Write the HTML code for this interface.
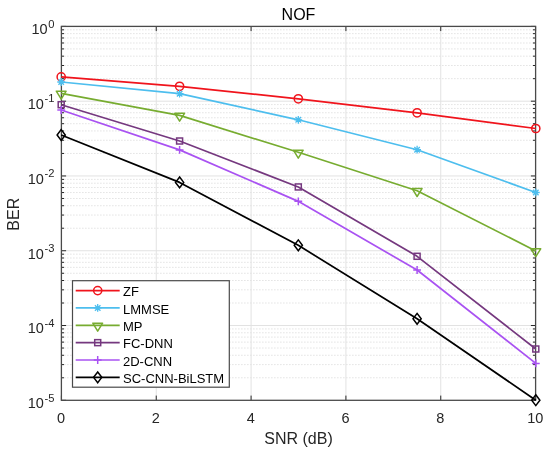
<!DOCTYPE html><html><head><meta charset="utf-8"><style>
html,body{margin:0;padding:0;background:#fff;}
svg{display:block;filter:blur(0.45px);}
text{font-family:"Liberation Sans",Arial,sans-serif;fill:#262626;}
</style></head><body>
<svg width="550" height="454" viewBox="0 0 550 454">
<rect width="550" height="454" fill="#fff"/>
<path d="M61.4 78.67H535.6M61.4 65.50H535.6M61.4 56.16H535.6M61.4 48.91H535.6M61.4 42.99H535.6M61.4 37.98H535.6M61.4 33.65H535.6M61.4 29.82H535.6M61.4 153.45H535.6M61.4 140.28H535.6M61.4 130.94H535.6M61.4 123.69H535.6M61.4 117.77H535.6M61.4 112.76H535.6M61.4 108.43H535.6M61.4 104.60H535.6M61.4 228.23H535.6M61.4 215.06H535.6M61.4 205.72H535.6M61.4 198.47H535.6M61.4 192.55H535.6M61.4 187.54H535.6M61.4 183.21H535.6M61.4 179.38H535.6M61.4 303.01H535.6M61.4 289.84H535.6M61.4 280.50H535.6M61.4 273.25H535.6M61.4 267.33H535.6M61.4 262.32H535.6M61.4 257.99H535.6M61.4 254.16H535.6M61.4 377.79H535.6M61.4 364.62H535.6M61.4 355.28H535.6M61.4 348.03H535.6M61.4 342.11H535.6M61.4 337.10H535.6M61.4 332.77H535.6M61.4 328.94H535.6" stroke="#d4d4d4" stroke-width="1" stroke-dasharray="1 2" fill="none"/>
<path d="M61.4 101.18H535.6M61.4 175.96H535.6M61.4 250.74H535.6M61.4 325.52H535.6M156.24 26.4V400.3M251.08 26.4V400.3M345.92 26.4V400.3M440.76 26.4V400.3" stroke="#e2e2e2" stroke-width="1" fill="none"/>
<path d="M61.40 400.3v-4.7M61.40 26.4v4.7M156.24 400.3v-4.7M156.24 26.4v4.7M251.08 400.3v-4.7M251.08 26.4v4.7M345.92 400.3v-4.7M345.92 26.4v4.7M440.76 400.3v-4.7M440.76 26.4v4.7M535.60 400.3v-4.7M535.60 26.4v4.7M61.4 26.40h4.7M535.6 26.40h-4.7M61.4 101.18h4.7M535.6 101.18h-4.7M61.4 175.96h4.7M535.6 175.96h-4.7M61.4 250.74h4.7M535.6 250.74h-4.7M61.4 325.52h4.7M535.6 325.52h-4.7M61.4 400.30h4.7M535.6 400.30h-4.7M61.4 78.67h2.6M535.6 78.67h-2.6M61.4 65.50h2.6M535.6 65.50h-2.6M61.4 56.16h2.6M535.6 56.16h-2.6M61.4 48.91h2.6M535.6 48.91h-2.6M61.4 42.99h2.6M535.6 42.99h-2.6M61.4 37.98h2.6M535.6 37.98h-2.6M61.4 33.65h2.6M535.6 33.65h-2.6M61.4 29.82h2.6M535.6 29.82h-2.6M61.4 153.45h2.6M535.6 153.45h-2.6M61.4 140.28h2.6M535.6 140.28h-2.6M61.4 130.94h2.6M535.6 130.94h-2.6M61.4 123.69h2.6M535.6 123.69h-2.6M61.4 117.77h2.6M535.6 117.77h-2.6M61.4 112.76h2.6M535.6 112.76h-2.6M61.4 108.43h2.6M535.6 108.43h-2.6M61.4 104.60h2.6M535.6 104.60h-2.6M61.4 228.23h2.6M535.6 228.23h-2.6M61.4 215.06h2.6M535.6 215.06h-2.6M61.4 205.72h2.6M535.6 205.72h-2.6M61.4 198.47h2.6M535.6 198.47h-2.6M61.4 192.55h2.6M535.6 192.55h-2.6M61.4 187.54h2.6M535.6 187.54h-2.6M61.4 183.21h2.6M535.6 183.21h-2.6M61.4 179.38h2.6M535.6 179.38h-2.6M61.4 303.01h2.6M535.6 303.01h-2.6M61.4 289.84h2.6M535.6 289.84h-2.6M61.4 280.50h2.6M535.6 280.50h-2.6M61.4 273.25h2.6M535.6 273.25h-2.6M61.4 267.33h2.6M535.6 267.33h-2.6M61.4 262.32h2.6M535.6 262.32h-2.6M61.4 257.99h2.6M535.6 257.99h-2.6M61.4 254.16h2.6M535.6 254.16h-2.6M61.4 377.79h2.6M535.6 377.79h-2.6M61.4 364.62h2.6M535.6 364.62h-2.6M61.4 355.28h2.6M535.6 355.28h-2.6M61.4 348.03h2.6M535.6 348.03h-2.6M61.4 342.11h2.6M535.6 342.11h-2.6M61.4 337.10h2.6M535.6 337.10h-2.6M61.4 332.77h2.6M535.6 332.77h-2.6M61.4 328.94h2.6M535.6 328.94h-2.6" stroke="#262626" stroke-width="1" fill="none"/>
<rect x="61.4" y="26.4" width="474.2" height="373.9" fill="none" stroke="#4a4a4a" stroke-width="1.3"/>
<polyline points="61.20,76.90 179.60,86.30 298.30,98.80 417.10,112.80 535.80,128.50" fill="none" stroke="#f0141c" stroke-width="1.7" stroke-linejoin="round"/>
<circle cx="61.20" cy="76.90" r="4.1" fill="none" stroke="#f0141c" stroke-width="1.5"/>
<circle cx="179.60" cy="86.30" r="4.1" fill="none" stroke="#f0141c" stroke-width="1.5"/>
<circle cx="298.30" cy="98.80" r="4.1" fill="none" stroke="#f0141c" stroke-width="1.5"/>
<circle cx="417.10" cy="112.80" r="4.1" fill="none" stroke="#f0141c" stroke-width="1.5"/>
<circle cx="535.80" cy="128.50" r="4.1" fill="none" stroke="#f0141c" stroke-width="1.5"/>
<polyline points="61.20,82.00 179.60,93.70 298.30,119.80 417.10,149.70 535.80,192.50" fill="none" stroke="#4dbeee" stroke-width="1.7" stroke-linejoin="round"/>
<path d="M57.30 82.00h7.8M61.20 78.10v7.8M58.44 79.24l5.52 5.52M58.44 84.76l5.52 -5.52" stroke="#4dbeee" stroke-width="1.3" fill="none"/>
<path d="M175.70 93.70h7.8M179.60 89.80v7.8M176.84 90.94l5.52 5.52M176.84 96.46l5.52 -5.52" stroke="#4dbeee" stroke-width="1.3" fill="none"/>
<path d="M294.40 119.80h7.8M298.30 115.90v7.8M295.54 117.04l5.52 5.52M295.54 122.56l5.52 -5.52" stroke="#4dbeee" stroke-width="1.3" fill="none"/>
<path d="M413.20 149.70h7.8M417.10 145.80v7.8M414.34 146.94l5.52 5.52M414.34 152.46l5.52 -5.52" stroke="#4dbeee" stroke-width="1.3" fill="none"/>
<path d="M531.90 192.50h7.8M535.80 188.60v7.8M533.04 189.74l5.52 5.52M533.04 195.26l5.52 -5.52" stroke="#4dbeee" stroke-width="1.3" fill="none"/>
<polyline points="61.20,93.30 179.60,115.40 298.30,152.30 417.10,190.70 535.80,250.90" fill="none" stroke="#77ac30" stroke-width="1.7" stroke-linejoin="round"/>
<path d="M56.30 91.20H66.10L61.20 99.10Z" fill="none" stroke="#77ac30" stroke-width="1.5" stroke-linejoin="round"/>
<path d="M174.70 113.30H184.50L179.60 121.20Z" fill="none" stroke="#77ac30" stroke-width="1.5" stroke-linejoin="round"/>
<path d="M293.40 150.20H303.20L298.30 158.10Z" fill="none" stroke="#77ac30" stroke-width="1.5" stroke-linejoin="round"/>
<path d="M412.20 188.60H422.00L417.10 196.50Z" fill="none" stroke="#77ac30" stroke-width="1.5" stroke-linejoin="round"/>
<path d="M530.90 248.80H540.70L535.80 256.70Z" fill="none" stroke="#77ac30" stroke-width="1.5" stroke-linejoin="round"/>
<polyline points="61.20,104.70 179.60,141.00 298.30,186.95 417.10,256.30 535.80,349.00" fill="none" stroke="#75387f" stroke-width="1.7" stroke-linejoin="round"/>
<rect x="58.20" y="101.70" width="6.0" height="6.0" fill="none" stroke="#75387f" stroke-width="1.5"/>
<rect x="176.60" y="138.00" width="6.0" height="6.0" fill="none" stroke="#75387f" stroke-width="1.5"/>
<rect x="295.30" y="183.95" width="6.0" height="6.0" fill="none" stroke="#75387f" stroke-width="1.5"/>
<rect x="414.10" y="253.30" width="6.0" height="6.0" fill="none" stroke="#75387f" stroke-width="1.5"/>
<rect x="532.80" y="346.00" width="6.0" height="6.0" fill="none" stroke="#75387f" stroke-width="1.5"/>
<polyline points="61.20,110.00 179.60,149.90 298.30,201.35 417.10,270.00 535.80,363.40" fill="none" stroke="#a952f2" stroke-width="1.7" stroke-linejoin="round"/>
<path d="M57.30 110.00h7.8M61.20 106.10v7.8" stroke="#a952f2" stroke-width="1.5" fill="none"/>
<path d="M175.70 149.90h7.8M179.60 146.00v7.8" stroke="#a952f2" stroke-width="1.5" fill="none"/>
<path d="M294.40 201.35h7.8M298.30 197.45v7.8" stroke="#a952f2" stroke-width="1.5" fill="none"/>
<path d="M413.20 270.00h7.8M417.10 266.10v7.8" stroke="#a952f2" stroke-width="1.5" fill="none"/>
<path d="M531.90 363.40h7.8M535.80 359.50v7.8" stroke="#a952f2" stroke-width="1.5" fill="none"/>
<polyline points="61.20,135.00 179.60,182.40 298.30,245.30 417.10,318.80 535.80,400.20" fill="none" stroke="#000000" stroke-width="1.7" stroke-linejoin="round"/>
<path d="M61.20 129.60L65.30 135.00L61.20 140.40L57.10 135.00Z" fill="none" stroke="#000000" stroke-width="1.5" stroke-linejoin="miter"/>
<path d="M179.60 177.00L183.70 182.40L179.60 187.80L175.50 182.40Z" fill="none" stroke="#000000" stroke-width="1.5" stroke-linejoin="miter"/>
<path d="M298.30 239.90L302.40 245.30L298.30 250.70L294.20 245.30Z" fill="none" stroke="#000000" stroke-width="1.5" stroke-linejoin="miter"/>
<path d="M417.10 313.40L421.20 318.80L417.10 324.20L413.00 318.80Z" fill="none" stroke="#000000" stroke-width="1.5" stroke-linejoin="miter"/>
<path d="M535.80 394.80L539.90 400.20L535.80 405.60L531.70 400.20Z" fill="none" stroke="#000000" stroke-width="1.5" stroke-linejoin="miter"/>
<rect x="72.5" y="280.7" width="156.8" height="106.5" fill="#fff" stroke="#4a4a4a" stroke-width="1.2"/>
<path d="M75.7 290.60H119.7" stroke="#f0141c" stroke-width="1.7"/>
<circle cx="97.70" cy="290.60" r="4.1" fill="none" stroke="#f0141c" stroke-width="1.5"/>
<text x="123.0" y="296.20" font-size="13" style="fill:#000">ZF</text>
<path d="M75.7 307.95H119.7" stroke="#4dbeee" stroke-width="1.7"/>
<path d="M93.80 307.95h7.8M97.70 304.05v7.8M94.94 305.19l5.52 5.52M94.94 310.71l5.52 -5.52" stroke="#4dbeee" stroke-width="1.3" fill="none"/>
<text x="123.0" y="313.55" font-size="13" style="fill:#000">LMMSE</text>
<path d="M75.7 325.30H119.7" stroke="#77ac30" stroke-width="1.7"/>
<path d="M92.80 323.20H102.60L97.70 331.10Z" fill="none" stroke="#77ac30" stroke-width="1.5" stroke-linejoin="round"/>
<text x="123.0" y="330.90" font-size="13" style="fill:#000">MP</text>
<path d="M75.7 342.65H119.7" stroke="#75387f" stroke-width="1.7"/>
<rect x="94.70" y="339.65" width="6.0" height="6.0" fill="none" stroke="#75387f" stroke-width="1.5"/>
<text x="123.0" y="348.25" font-size="13" style="fill:#000">FC-DNN</text>
<path d="M75.7 360.00H119.7" stroke="#a952f2" stroke-width="1.7"/>
<path d="M93.80 360.00h7.8M97.70 356.10v7.8" stroke="#a952f2" stroke-width="1.5" fill="none"/>
<text x="123.0" y="365.60" font-size="13" style="fill:#000">2D-CNN</text>
<path d="M75.7 377.35H119.7" stroke="#000000" stroke-width="1.7"/>
<path d="M97.70 371.95L101.80 377.35L97.70 382.75L93.60 377.35Z" fill="none" stroke="#000000" stroke-width="1.5" stroke-linejoin="miter"/>
<text x="123.0" y="382.95" font-size="13" style="fill:#000">SC-CNN-BiLSTM</text>
<text x="61.00" y="422.7" font-size="14.5" text-anchor="middle">0</text>
<text x="155.84" y="422.7" font-size="14.5" text-anchor="middle">2</text>
<text x="250.68" y="422.7" font-size="14.5" text-anchor="middle">4</text>
<text x="345.52" y="422.7" font-size="14.5" text-anchor="middle">6</text>
<text x="440.36" y="422.7" font-size="14.5" text-anchor="middle">8</text>
<text x="535.20" y="422.7" font-size="14.5" text-anchor="middle">10</text>
<text x="54.4" y="34.30" font-size="14.5" text-anchor="end">10<tspan font-size="11.2" dx="0.5" dy="-6.6">0</tspan></text>
<text x="54.4" y="109.08" font-size="14.5" text-anchor="end">10<tspan font-size="11.2" dx="0.5" dy="-6.6">-1</tspan></text>
<text x="54.4" y="183.86" font-size="14.5" text-anchor="end">10<tspan font-size="11.2" dx="0.5" dy="-6.6">-2</tspan></text>
<text x="54.4" y="258.64" font-size="14.5" text-anchor="end">10<tspan font-size="11.2" dx="0.5" dy="-6.6">-3</tspan></text>
<text x="54.4" y="333.42" font-size="14.5" text-anchor="end">10<tspan font-size="11.2" dx="0.5" dy="-6.6">-4</tspan></text>
<text x="54.4" y="408.20" font-size="14.5" text-anchor="end">10<tspan font-size="11.2" dx="0.5" dy="-6.6">-5</tspan></text>
<text x="298.5" y="20.2" font-size="16" text-anchor="middle" style="fill:#000">NOF</text>
<text x="298.5" y="444" font-size="16" text-anchor="middle">SNR (dB)</text>
<text transform="translate(18.8 214.2) rotate(-90)" font-size="16" text-anchor="middle">BER</text>
</svg></body></html>
